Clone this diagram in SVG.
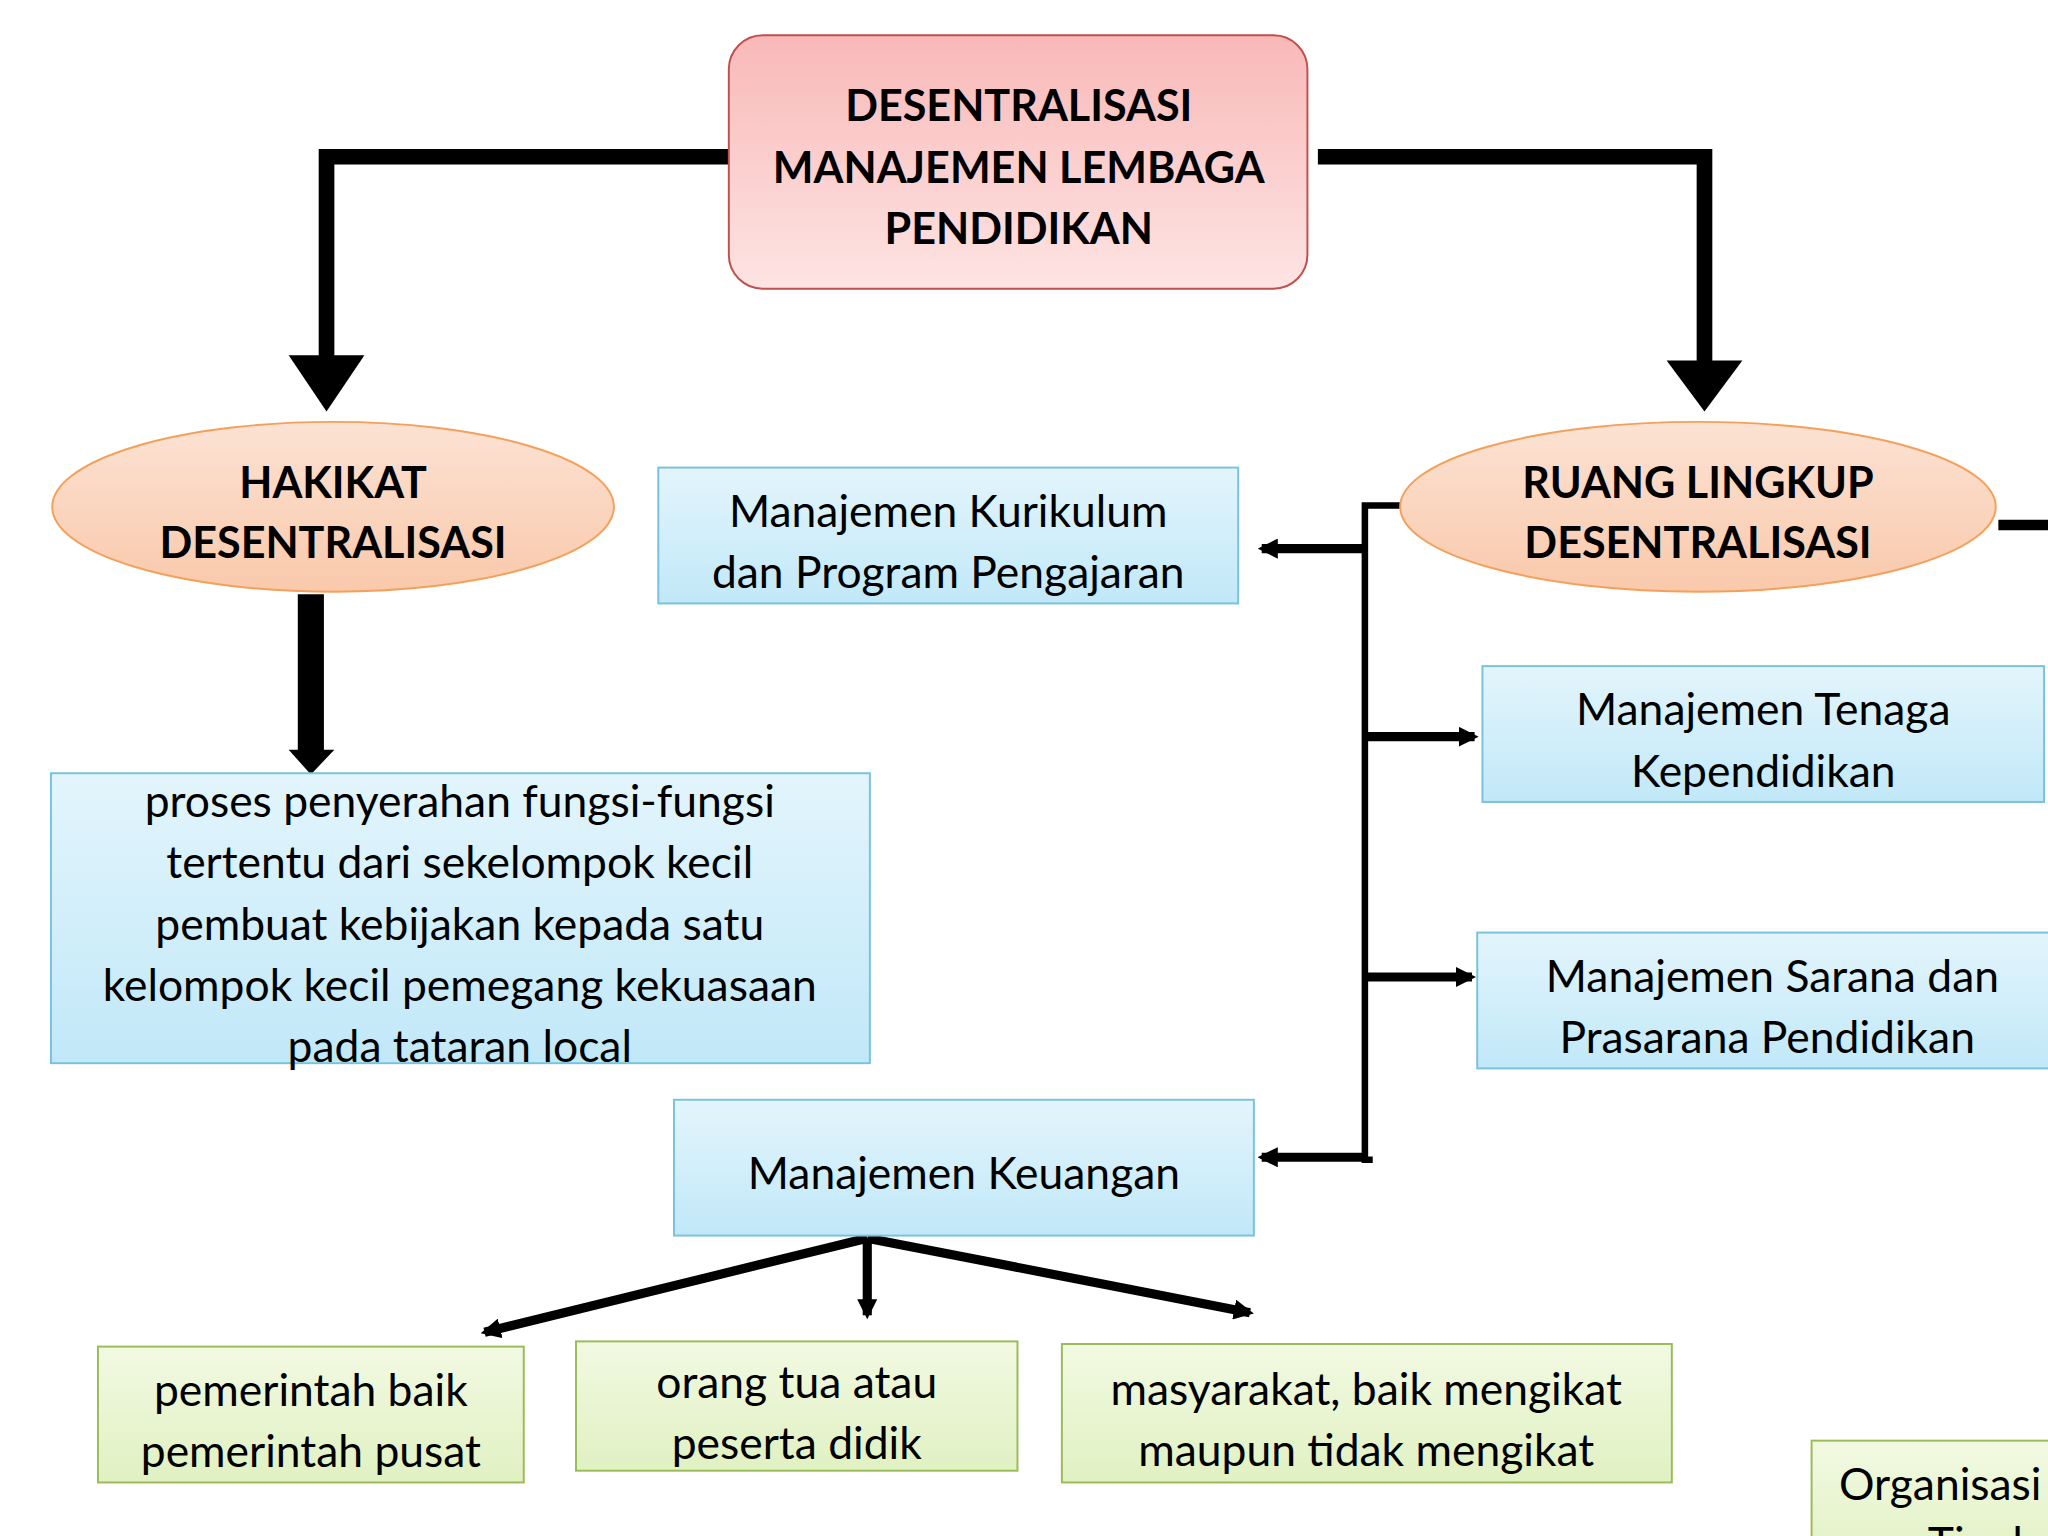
<svg xmlns="http://www.w3.org/2000/svg" width="2048" height="1536" viewBox="0 0 2048 1536">
<defs>
<linearGradient id="gPink" x1="0" y1="0" x2="0" y2="1"><stop offset="0" stop-color="#f8b9b8"/><stop offset="1" stop-color="#fde4e3"/></linearGradient>
<linearGradient id="gPeach" x1="0" y1="0" x2="0" y2="1"><stop offset="0" stop-color="#fce2d3"/><stop offset="1" stop-color="#f9c9ab"/></linearGradient>
<linearGradient id="gBlue" x1="0" y1="0" x2="0" y2="1"><stop offset="0" stop-color="#e3f5fc"/><stop offset="1" stop-color="#c1e8f8"/></linearGradient>
<linearGradient id="gGreen" x1="0" y1="0" x2="0" y2="1"><stop offset="0" stop-color="#f2f9e2"/><stop offset="1" stop-color="#e0f1c2"/></linearGradient>
<marker id="ah" viewBox="0 0 10 10" refX="8" refY="5" markerWidth="2.2" markerHeight="2.2" orient="auto"><path d="M0,0 L10,5 L0,10 z" fill="#000"/></marker>
</defs>
<style>
text{font-family:Lato,"Open Sans","DejaVu Sans",sans-serif;fill:#000;text-anchor:middle;dominant-baseline:central;font-size:34px}
.b{font-weight:bold;font-size:33px}
.blue{fill:url(#gBlue);stroke:#78c2dd;stroke-width:1.5}
.green{fill:url(#gGreen);stroke:#9bbb59;stroke-width:1.5}
.ell{fill:url(#gPeach);stroke:#f5a05a;stroke-width:1.5}
.c{fill:none;stroke:#000}
</style>
<rect width="2048" height="1536" fill="#fff"/>
<g transform="scale(1.30612)">
<g id="connectors">
<polyline class="c" points="558,120 250,120 250,275" stroke-width="12"/>
<path d="M221,272 L279,272 L250,315 z"/>
<polyline class="c" points="1009,120 1305,120 1305,278" stroke-width="12"/>
<path d="M1276,276 L1334,276 L1305,315 z"/>
<line class="c" x1="1530" y1="402" x2="1568" y2="402" stroke-width="8"/>
<line class="c" x1="238" y1="455" x2="238" y2="576" stroke-width="20"/>
<path d="M221,574 L256,574 L238,593 z"/>
<polyline class="c" points="1072,387 1045,387 1045,888 1051,888" stroke-width="5"/>
<line class="c" x1="1045" y1="420" x2="966" y2="420" stroke-width="7" marker-end="url(#ah)"/>
<line class="c" x1="1045" y1="564" x2="1129" y2="564" stroke-width="7" marker-end="url(#ah)"/>
<line class="c" x1="1045" y1="748" x2="1127" y2="748" stroke-width="7" marker-end="url(#ah)"/>
<line class="c" x1="1045" y1="886" x2="966" y2="886" stroke-width="7" marker-end="url(#ah)"/>
<line class="c" x1="664" y1="948" x2="371" y2="1020" stroke-width="7" marker-end="url(#ah)"/>
<line class="c" x1="664" y1="948" x2="664" y2="1007" stroke-width="7" marker-end="url(#ah)"/>
<line class="c" x1="664" y1="948" x2="957" y2="1005" stroke-width="7" marker-end="url(#ah)"/>
</g>
<g id="top"><rect x="558" y="27" width="443" height="194" rx="26" fill="url(#gPink)" stroke="#c0504d" stroke-width="1.5"/>
<text class="b" x="780" y="80">DESENTRALISASI</text><text class="b" x="780" y="127">MANAJEMEN LEMBAGA</text><text class="b" x="780" y="174">PENDIDIKAN</text></g>
<g id="hakikat"><ellipse class="ell" cx="255" cy="388" rx="215" ry="65"/><text class="b" x="255" y="368">HAKIKAT</text><text class="b" x="255" y="414">DESENTRALISASI</text></g>
<g id="ruang"><ellipse class="ell" cx="1300" cy="388" rx="228" ry="65"/><text class="b" x="1300" y="368">RUANG LINGKUP</text><text class="b" x="1300" y="414">DESENTRALISASI</text></g>
<g id="proses"><rect class="blue" x="39" y="592" width="627" height="222"/>
<text x="352" y="612">proses penyerahan fungsi-fungsi</text><text x="352" y="659">tertentu dari sekelompok kecil</text><text x="352" y="706">pembuat kebijakan kepada satu</text><text x="352" y="753">kelompok kecil pemegang kekuasaan</text><text x="352" y="800">pada tataran local</text></g>
<g id="kurikulum"><rect class="blue" x="504" y="358" width="444" height="104"/><text x="726" y="390">Manajemen Kurikulum</text><text x="726" y="437">dan Program Pengajaran</text></g>
<g id="tenaga"><rect class="blue" x="1135" y="510" width="430" height="104"/><text x="1350" y="542">Manajemen Tenaga</text><text x="1350" y="589">Kependidikan</text></g>
<g id="sarana"><rect class="blue" x="1131" y="714" width="450" height="104"/><text x="1357" y="746">Manajemen Sarana dan</text><text x="1353" y="793">Prasarana Pendidikan</text></g>
<g id="keuangan"><rect class="blue" x="516" y="842" width="444" height="104"/><text x="738" y="897">Manajemen Keuangan</text></g>
<g id="pemerintah"><rect class="green" x="75" y="1031" width="326" height="104"/><text x="238" y="1063">pemerintah baik</text><text x="238" y="1110">pemerintah pusat</text></g>
<g id="orangtua"><rect class="green" x="441" y="1027" width="338" height="99"/><text x="610" y="1057">orang tua atau</text><text x="610" y="1104">peserta didik</text></g>
<g id="masyarakat"><rect class="green" x="813" y="1029" width="467" height="106"/><text x="1046" y="1062">masyarakat, baik mengikat</text><text x="1046" y="1109">maupun tidak mengikat</text></g>
<g id="organisasi"><rect class="green" x="1387" y="1103" width="220" height="100"/><text x="1408" y="1135" style="text-anchor:start">Organisasi</text><text x="1476" y="1180" style="text-anchor:start">Tingk</text></g>
</g>
</svg>
